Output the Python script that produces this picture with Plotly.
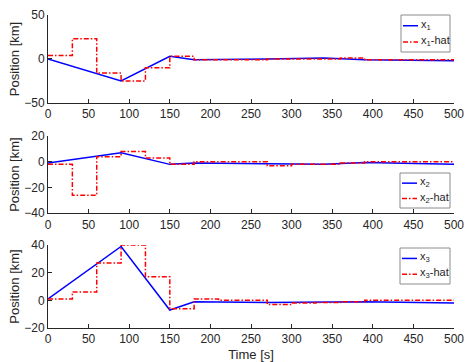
import plotly.graph_objects as go

# True trajectories (piecewise linear)
t_true = [0, 90, 150, 180, 270, 340, 390, 500]
x1_true = [0, -25, 3, -1, 0, 1, -1, -2]
x2_true = [-1, 7, -2, -1, -1.5, -2, -0.5, -2]
x3_true = [1, 39, -7, -1, -1.5, -1.5, -1, -2]

# Estimated (piecewise constant, steps every 30 s)
t_hat = [0, 30, 60, 90, 120, 150, 180, 210, 240, 270, 300, 330, 360, 390, 500]
x1_hat = [4, 23, -16, -25, -10, 3, -1, -1, -1, 0, 0, 0, 1, -1, -1]
x2_hat = [-2, -26, 4, 8, 3, -2, 0, 0, 0, -3, -2, -2, -1, 0, 0]
x3_hat = [1, 6, 27, 40, 17, -6, 1, 0, 0, -3, -2, -1.5, -1, 0, 0]

y_ranges = [[-50, 50], [-40, 20], [-20, 40]]
y_ticks = [[-50, 0, 50], [-40, -20, 0, 20], [-20, 0, 20, 40]]
domains = [[0.719, 1.0], [0.367, 0.613], [0.0, 0.265]]
x_ticks = list(range(0, 501, 50))

FONT = "Liberation Sans, Arial, sans-serif"
W, H = 474, 362
ML, MR, MT, MB = 48, 20, 15, 34
PW, PH = W - ML - MR, H - MT - MB

def px(x):
    return (x - ML) / PW

def py(y):
    return (H - MB - y) / PH

fig = go.Figure()

trues = [x1_true, x2_true, x3_true]
hats = [x1_hat, x2_hat, x3_hat]
BLUE = "rgb(0,0,255)"
RED = "rgb(255,0,0)"
DASH = "5px,2px,1.5px,2px"

# legend boxes in pixel coordinates: (left, top, right, bottom)
legend_boxes = [(401, 15, 450, 52), (400, 173, 450, 208), (400, 248, 450, 284)]

layout = dict(
    width=W, height=H,
    margin=dict(l=ML, r=MR, t=MT, b=MB),
    paper_bgcolor="white", plot_bgcolor="white",
    font=dict(family=FONT, size=12, color="#262626"),
    showlegend=False,
)
shapes = []
annotations = []

for i in range(3):
    xa = "x" if i == 0 else f"x{i+1}"
    ya = "y" if i == 0 else f"y{i+1}"
    fig.add_trace(go.Scatter(
        x=t_true, y=trues[i], mode="lines", xaxis=xa, yaxis=ya,
        name=f"x<sub>{i+1}</sub>",
        line=dict(color=BLUE, width=1.5)))
    fig.add_trace(go.Scatter(
        x=t_hat, y=hats[i], mode="lines", xaxis=xa, yaxis=ya,
        name=f"x<sub>{i+1}</sub>-hat", line_shape="hv",
        line=dict(color=RED, width=1.5, dash=DASH)))

    xkey = "xaxis" if i == 0 else f"xaxis{i+1}"
    ykey = "yaxis" if i == 0 else f"yaxis{i+1}"
    layout[xkey] = dict(
        domain=[0, 1], range=[0, 500], anchor=ya, tickvals=x_ticks,
        showline=True, linecolor="#262626", linewidth=1, mirror=False,
        ticks="inside", ticklen=4, tickcolor="#262626", showgrid=False,
        zeroline=False, tickfont=dict(size=12, color="#262626"),
        automargin=False,
        title=dict(text="Time [s]" if i == 2 else "", font=dict(size=13), standoff=6),
    )
    layout[ykey] = dict(
        domain=domains[i], range=y_ranges[i], anchor=xa, tickvals=y_ticks[i],
        showline=True, linecolor="#262626", linewidth=1,
        ticks="inside", ticklen=4, tickcolor="#262626", showgrid=False,
        zeroline=False, tickfont=dict(size=12, color="#262626"),
        automargin=False,
        title=dict(text="Position [km]", font=dict(size=13), standoff=1),
    )

    # custom compact legend (MATLAB style)
    l, t, r, b = legend_boxes[i]
    shapes.append(dict(type="rect", xref="paper", yref="paper",
                       x0=px(l), x1=px(r), y0=py(b), y1=py(t),
                       line=dict(color="#8c8c8c", width=1), fillcolor="white",
                       layer="above"))
    hgt = b - t
    rows = [t + hgt * 0.29, t + hgt * 0.73]
    labels = [f"x<sub>{i+1}</sub>", f"x<sub>{i+1}</sub>-hat"]
    styles = [dict(color=BLUE, width=1.5), dict(color=RED, width=1.5, dash=DASH)]
    for yy, lab, st in zip(rows, labels, styles):
        shapes.append(dict(type="line", xref="paper", yref="paper",
                           x0=px(l + 2), x1=px(l + 17), y0=py(yy), y1=py(yy),
                           line=st, layer="above"))
        annotations.append(dict(text=lab, xref="paper", yref="paper",
                                x=px(l + 18), y=py(yy - 1), xanchor="left",
                                yanchor="middle", showarrow=False,
                                font=dict(size=11, color="#262626")))

layout["shapes"] = shapes
layout["annotations"] = annotations
fig.update_layout(**layout)
fig.write_html("out.html", post_script="document.body.style.margin='0';",
               config={"displayModeBar": False})
